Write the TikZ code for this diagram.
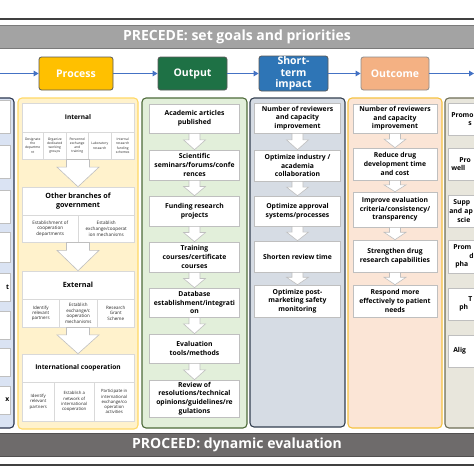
\documentclass[tikz,border=0pt]{standalone}
\usepackage{fontspec}
\setmainfont{Open Sans}
\usetikzlibrary{arrows.meta,positioning,calc}

\definecolor{flowblue}{HTML}{4472C4}
\definecolor{bannerlt}{HTML}{A3A3A3}
\definecolor{bannerdk}{HTML}{6E6B6B}
\definecolor{procfill}{HTML}{FFC000}
\definecolor{outfill}{HTML}{1E7145}
\definecolor{stfill}{HTML}{2E75B6}
\definecolor{ocfill}{HTML}{F4B183}
\definecolor{leftbg}{HTML}{DAE3F3}
\definecolor{leftln}{HTML}{2B3650}
\definecolor{procbg}{HTML}{FFF2CC}
\definecolor{procln}{HTML}{FFD966}
\definecolor{outbg}{HTML}{E2EFDA}
\definecolor{outln}{HTML}{4E6B3A}
\definecolor{stbg}{HTML}{D6DCE4}
\definecolor{stln}{HTML}{333F4F}
\definecolor{ocbg}{HTML}{FBE5D6}
\definecolor{ocln}{HTML}{F5C342}
\definecolor{rightbg}{HTML}{E8E6DC}
\definecolor{rightln}{HTML}{6E6E55}

\newcommand{\fsz}[2]{\fontsize{#1}{#2}\selectfont}
% white block arrow between two boxes
\newcommand{\blockflow}[5][0.6]{%
  \draw[blockarr] let \p1=(#2.south), \p2=(#3.north), \n1={#1*(\y1-\y2)} in
    (\x2-#4,\y1) -- (\x2+#4,\y1) -- (\x2+#4,\y2+\n1) -- (\x2+#5,\y2+\n1)
    -- (\x2,\y2) -- (\x2-#5,\y2+\n1) -- (\x2-#4,\y2+\n1) -- cycle;}

\begin{document}
\begin{tikzpicture}[x=1pt, y=-1pt,
    banner/.style={draw=#1!75!black, fill=#1, line width=0.8pt, minimum width=490pt, minimum height=23pt, text=white, font=\bfseries\fsz{14}{15}},
    stage/.style={draw=black!65, fill=#1, rounded corners=2.5pt, line width=0.8pt, minimum height=33pt, text=white, align=center, font=\bfseries\fsz{10.5}{11.5}, inner sep=0.5pt},
    column/.style={rounded corners=4pt, line width=1.1pt, minimum height=330pt},
    item/.style={draw=black!25, fill=white, line width=0.6pt, align=center, font=\bfseries\fsz{6.8}{8.6}, inner sep=1pt},
    grouphead/.style={draw=black!15, fill=white, line width=0.5pt, minimum width=112pt, align=center, inner sep=1pt},
    subcell/.style={draw=black!15, fill=white, line width=0.5pt, align=center, anchor=north west, inner sep=0.3pt, text=black!85},
    flow/.style={-{Triangle[length=5pt,width=5.5pt]}, draw=flowblue, line width=1.3pt},
    blockarr/.style={draw=black!25, fill=white, line width=0.6pt}
  ]
  \fill[white] (0,0) rectangle (474,474);
  \useasboundingbox (0,0) rectangle (474,474);
  \clip (0,0) rectangle (474,474);

  % frame and banners
  \draw[black!75, line width=1.2pt] (-5,19) rectangle (480,465);
  \node[banner=bannerlt] (precede) at (237,36.5) {PRECEDE: set goals and priorities};
  \node[banner=bannerdk] (proceed) at (237,445) {PROCEED: dynamic evaluation};

  % stages
  \node[stage=procfill, minimum width=74pt] (process) at (76,73.5) {Process};
  \node[stage=outfill, minimum width=69pt] (output) at (192.5,73.5) {Output};
  \node[stage=stfill, minimum width=69pt, minimum height=35pt] (impact) at (293.5,73.5) {Short-\\term\\impact};
  \node[stage=ocfill, minimum width=68pt, draw=black!45] (outcome) at (395,73.5) {Outcome};
  \coordinate (inflow) at (-4,73.5);
  \coordinate (outflow) at (474,73.5);

  \draw[flow] (inflow) -- (process);
  \draw[flow] (process) -- (output);
  \draw[flow] (output) -- (impact);
  \draw[flow] (impact) -- (outcome);
  \draw[flow] (outcome) -- (outflow);

  % columns
  \node[column, draw=leftln, fill=leftbg, minimum width=94pt] (leftcol) at (-33,263) {};
  \node[column, draw=procln, fill=procbg, minimum width=120pt, minimum height=331pt] (proccol) at (78,263.5) {};
  \node[column, draw=outln, fill=outbg, minimum width=105pt] (outcol) at (194.5,263) {};
  \node[column, draw=stln, fill=stbg, minimum width=95pt, minimum height=329pt] (stcol) at (297.5,262.5) {};
  \node[column, draw=ocln, fill=ocbg, minimum width=94pt] (occol) at (395,263) {};
  \node[column, draw=rightln, fill=rightbg, minimum width=95pt] (rightcol) at (492.5,263) {};

  % left column (cut off)
  \node[item, minimum width=86pt, minimum height=33pt, anchor=east] (lf1) at (10.5,117) {};
  \node[item, minimum width=86pt, minimum height=33pt, anchor=east] (lf2) at (10.5,162) {};
  \node[item, minimum width=86pt, minimum height=33pt, anchor=east] (lf3) at (10.5,207) {};
  \node[item, minimum width=86pt, minimum height=30pt, anchor=east] (lf4) at (10.5,247) {};
  \node[item, minimum width=86pt, minimum height=28pt, anchor=east, text width=84pt, align=right] (lf5) at (10.5,287) {t};
  \node[item, minimum width=86pt, minimum height=28pt, anchor=east] (lf6) at (10.5,325) {};
  \node[item, minimum width=86pt, minimum height=28pt, anchor=east] (lf7) at (10.5,362) {};
  \node[item, minimum width=86pt, minimum height=28pt, anchor=east, text width=84pt, align=right] (lf8) at (10.5,400) {x};

  % process groups
  \node[grouphead, minimum height=29pt, font=\bfseries\fsz{6.5}{8}] (internal) at (78,117.5) {Internal};
  \node[subcell, minimum width=21pt, minimum height=27pt, font=\fsz{3.3}{4.1}] (in1) at (22,132) {Designate\\the\\departme\\nt};
  \node[subcell, minimum width=23pt, minimum height=27pt, font=\fsz{3.3}{4.1}] (in2) at (43,132) {Organize\\dedicated\\working\\groups};
  \node[subcell, minimum width=22pt, minimum height=27pt, font=\fsz{3.3}{4.1}] (in3) at (66,132) {Personnel\\exchange\\and\\training};
  \node[subcell, minimum width=23pt, minimum height=27pt, font=\fsz{3.3}{4.1}] (in4) at (88,132) {Laboratory\\research};
  \node[subcell, minimum width=23pt, minimum height=27pt, font=\fsz{3.3}{4.1}] (in5) at (111,132) {Internal\\research\\funding\\schemes};

  \node[grouphead, minimum height=28pt, font=\bfseries\fsz{7.2}{9.5}] (branches) at (78,201) {Other branches of\\government};
  \node[subcell, minimum width=56pt, minimum height=27pt, font=\fsz{4.6}{5.6}] (br1) at (22,215) {Establishment of\\cooperation\\departments};
  \node[subcell, minimum width=56pt, minimum height=27pt, font=\fsz{4.6}{5.6}] (br2) at (78,215) {Establish\\exchange/cooperat\\ion mechanisms};

  \node[grouphead, minimum height=28pt, font=\bfseries\fsz{7.2}{9}] (external) at (78,285) {External};
  \node[subcell, minimum width=37pt, minimum height=28pt, font=\fsz{4.5}{5.4}] (ex1) at (22,299) {Identify\\relevant\\partners};
  \node[subcell, minimum width=38pt, minimum height=28pt, font=\fsz{4.5}{5.4}] (ex2) at (59,299) {Establish\\exchange/c\\ooperation\\mechanisms};
  \node[subcell, minimum width=37pt, minimum height=28pt, font=\fsz{4.5}{5.4}] (ex3) at (97,299) {Research\\Grant\\Scheme};

  \node[grouphead, minimum height=28pt, font=\bfseries\fsz{6.6}{8}] (intcoop) at (78,368) {International cooperation};
  \node[subcell, minimum width=32pt, minimum height=39pt, font=\fsz{4.3}{5.3}] (ic1) at (22,382) {Identify\\relevant\\partners};
  \node[subcell, minimum width=40pt, minimum height=39pt, font=\fsz{4.3}{5.3}] (ic2) at (54,382) {Establish a\\network of\\international\\cooperation};
  \node[subcell, minimum width=40pt, minimum height=39pt, font=\fsz{4.3}{5.3}] (ic3) at (94,382) {Participate in\\international\\exchange/co\\operation\\activities};

  \blockflow[0.72]{in3}{branches}{11.5}{21}
  \blockflow[0.72]{br1}{external}{11.5}{21}
  \blockflow[0.72]{ex2}{intcoop}{11.5}{21}

  % output
  \node[item, minimum width=90pt, minimum height=29pt] (articles) at (194.5,118.5) {Academic articles\\published};
  \node[item, minimum width=90pt, minimum height=30pt] (seminars) at (194.5,165) {Scientific\\seminars/forums/confe\\rences};
  \node[item, minimum width=90pt, minimum height=30pt] (funding) at (194.5,211) {Funding research\\projects};
  \node[item, minimum width=90pt, minimum height=30pt] (training) at (194.5,257) {Training\\courses/certificate\\courses};
  \node[item, minimum width=90pt, minimum height=29pt] (database) at (194.5,302.5) {Database\\establishment/integrati\\on};
  \node[item, minimum width=90pt, minimum height=29pt] (evaltools) at (194.5,348.5) {Evaluation\\tools/methods};
  \node[item, minimum width=90pt, minimum height=37pt] (review) at (194.5,398.5) {Review of\\resolutions/technical\\opinions/guidelines/re\\gulations};

  \blockflow{articles}{seminars}{5.5}{11}
  \blockflow{seminars}{funding}{5.5}{11}
  \blockflow{funding}{training}{5.5}{11}
  \blockflow{training}{database}{5.5}{11}
  \blockflow{database}{evaltools}{5.5}{11}
  \blockflow{evaltools}{review}{5.5}{11}

  % short-term impact
  \node[item, minimum width=86pt, minimum height=30pt] (reviewers) at (297.5,118) {Number of reviewers\\and capacity\\improvement};
  \node[item, minimum width=86pt, minimum height=31pt] (industry) at (297.5,165.5) {Optimize industry /\\academia\\collaboration};
  \node[item, minimum width=86pt, minimum height=30pt] (approval) at (297.5,211) {Optimize approval\\systems/processes};
  \node[item, minimum width=86pt, minimum height=31pt] (shorten) at (297.5,256.5) {Shorten review time};
  \node[item, minimum width=86pt, minimum height=32pt] (postmkt) at (297.5,301) {Optimize post-\\marketing safety\\monitoring};

  \blockflow{reviewers}{industry}{5.5}{11}
  \blockflow{industry}{approval}{5.5}{11}
  \blockflow{approval}{shorten}{5.5}{11}
  \blockflow{shorten}{postmkt}{5.5}{11}

  % outcome
  \node[item, minimum width=84pt, minimum height=29pt] (capacity) at (395,118.5) {Number of reviewers\\and capacity\\improvement};
  \node[item, minimum width=84pt, minimum height=32pt] (reduce) at (395,164) {Reduce drug\\development time\\and cost};
  \node[item, minimum width=84pt, minimum height=35pt] (criteria) at (395,209.5) {Improve evaluation\\criteria/consistency/\\transparency};
  \node[item, minimum width=84pt, minimum height=32pt] (strengthen) at (395,256) {Strengthen drug\\research capabilities};
  \node[item, minimum width=84pt, minimum height=32pt] (respond) at (395,301) {Respond more\\effectively to patient\\needs};

  \blockflow{capacity}{reduce}{5.5}{11}
  \blockflow{reduce}{criteria}{5.5}{11}
  \blockflow{criteria}{strengthen}{5.5}{11}
  \blockflow{strengthen}{respond}{5.5}{11}

  % right column (cut off)
  \node[item, minimum width=88pt, minimum height=32pt, anchor=west, text width=86pt, align=left] (rt1) at (448,119) {\hspace*{2pt}Promo\\\hspace*{19pt}s};
  \node[item, minimum width=88pt, minimum height=32pt, anchor=west, text width=86pt, align=left] (rt2) at (448,164) {\hspace*{10pt}Pro\\\hspace*{2pt}well};
  \node[item, minimum width=88pt, minimum height=32pt, anchor=west, text width=86pt, align=left] (rt3) at (448,211) {\hspace*{4pt}Supp\\and ap\\\hspace*{8pt}scie};
  \node[item, minimum width=88pt, minimum height=33pt, anchor=west, text width=86pt, align=left] (rt4) at (448,256.5) {\hspace*{4pt}Prom\\\hspace*{20pt}d\\\hspace*{6pt}pha};
  \node[item, minimum width=88pt, minimum height=32pt, anchor=west, text width=86pt, align=left] (rt5) at (448,304) {\hspace*{19pt}T\\\hspace*{10pt}ph};
  \node[item, minimum width=88pt, minimum height=32pt, anchor=west, text width=86pt, align=left] (rt6) at (448,351) {\hspace*{4pt}Alig\\ };
\end{tikzpicture}
\end{document}
